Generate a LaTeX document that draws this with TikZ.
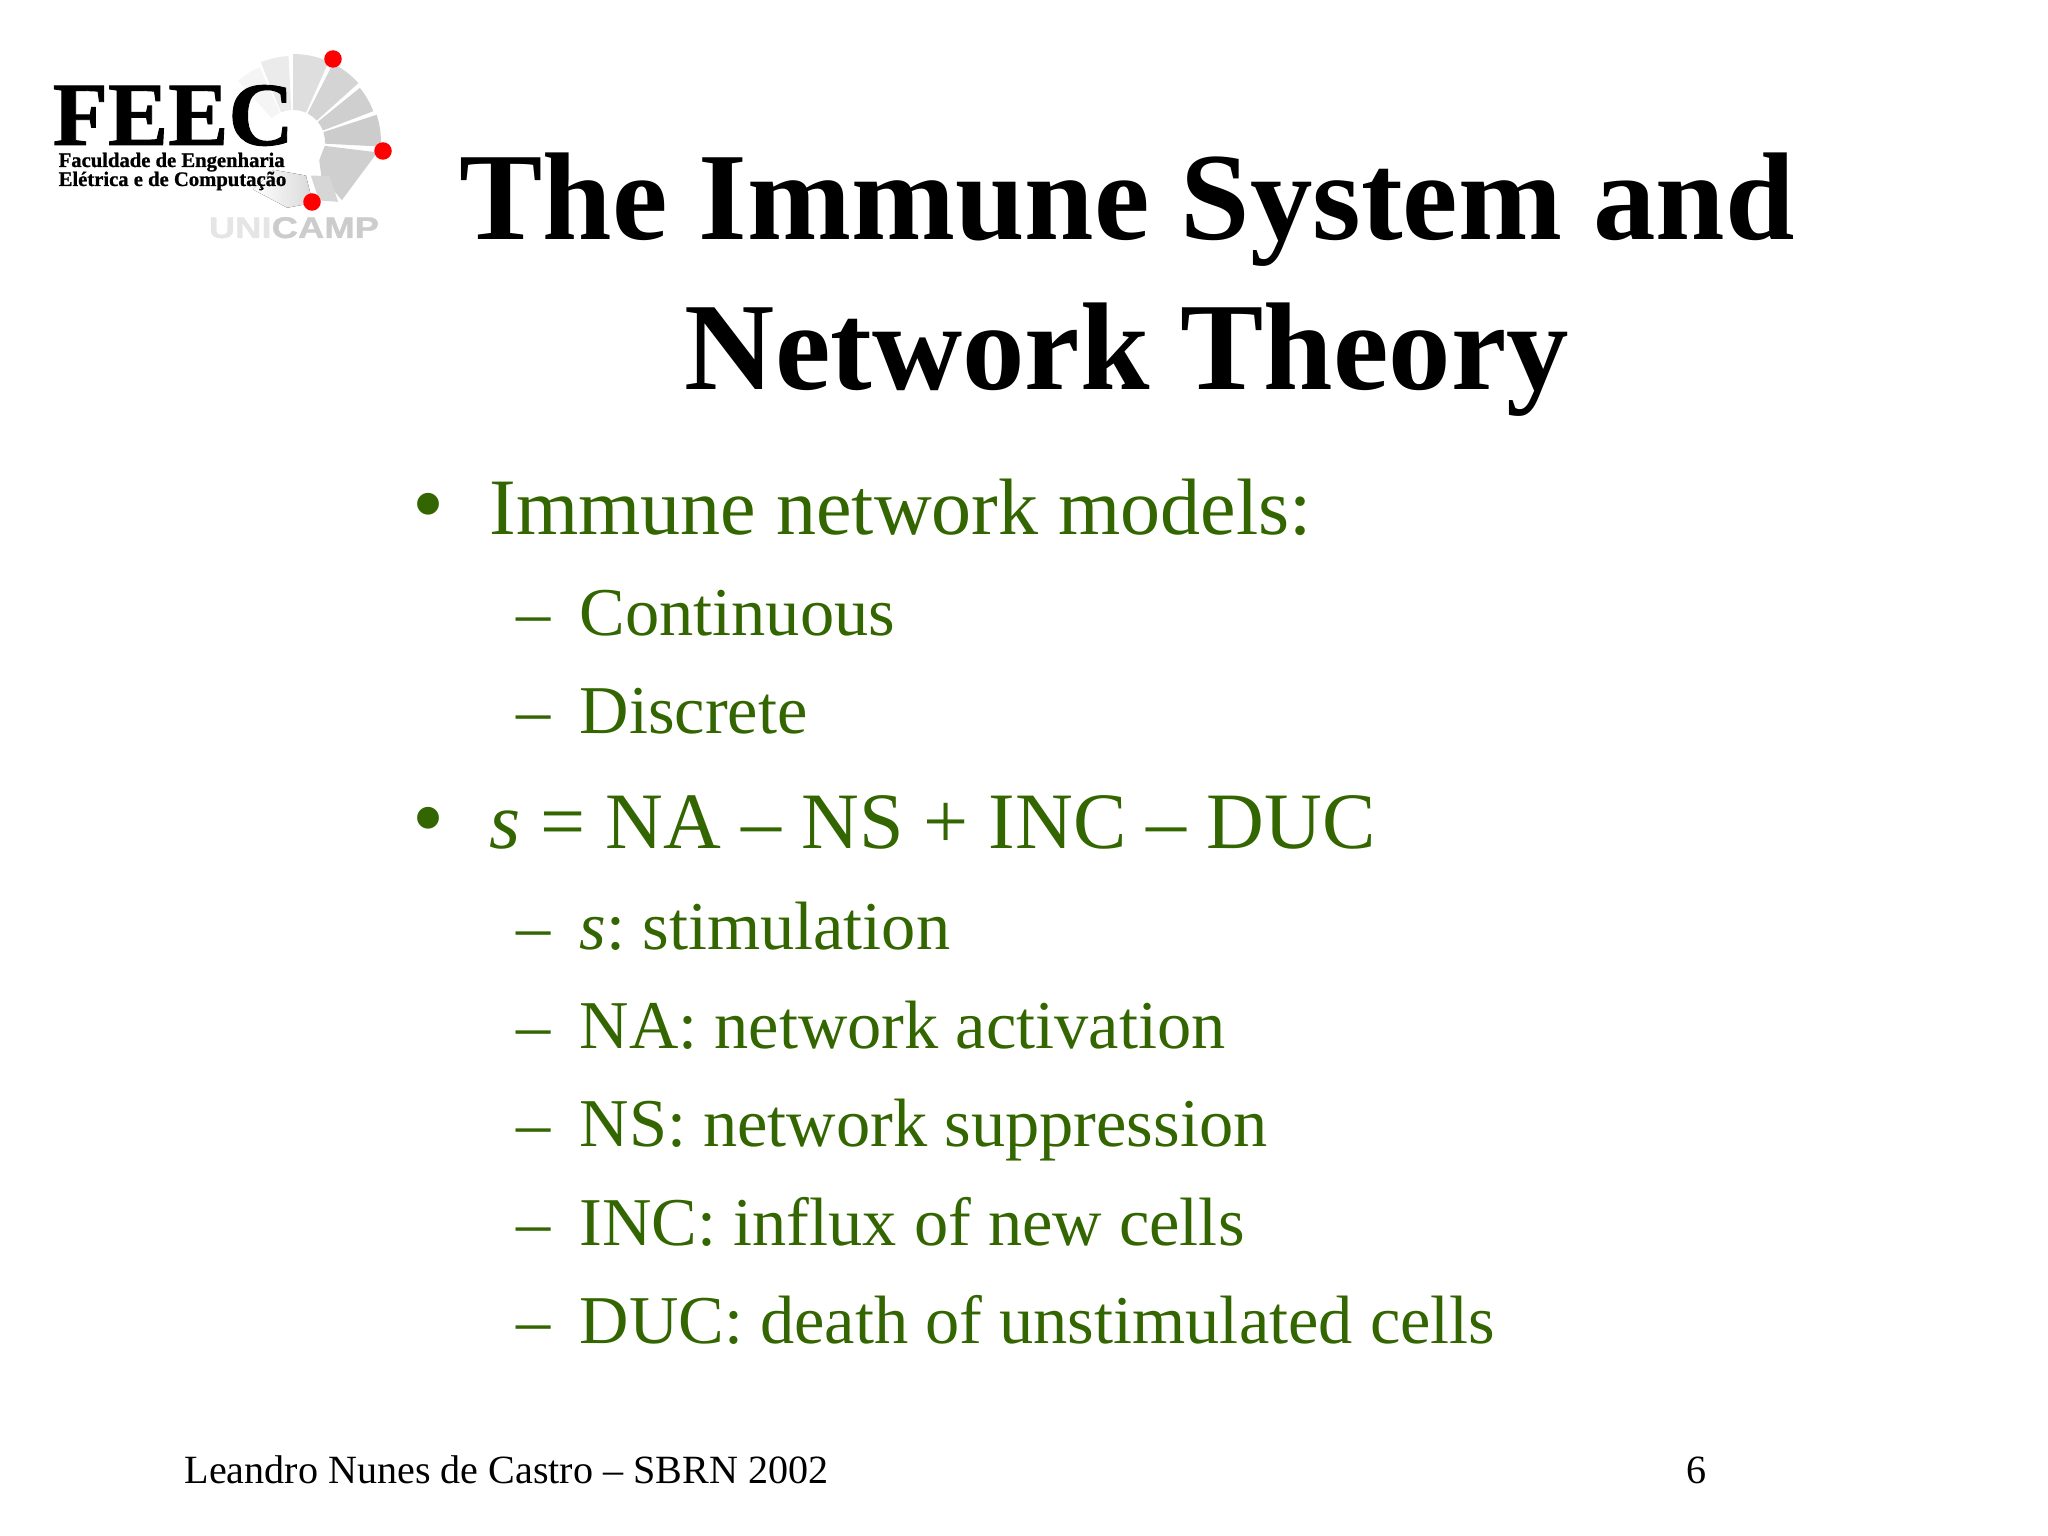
\documentclass[tikz,border=0pt]{standalone}
\usepackage{fontspec}
\setmainfont{Liberation Serif}
\newfontfamily\logoserif[FakeBold=1]{Liberation Serif Bold}
\newfontfamily\logosans[FakeBold=1]{Liberation Sans Bold}
\definecolor{slidegreen}{HTML}{336600}
\tikzset{
  titlelabel/.style={anchor=base,font=\fontsize{35.5}{36}\selectfont\bfseries},
  mainlabel/.style={anchor=base west,text=slidegreen,inner sep=0pt,font=\fontsize{22.75}{26}\selectfont},
  bulletlabel/.style={anchor=base west,text=slidegreen,inner sep=0pt,font=\fontsize{26}{26}\selectfont},
  sublabel/.style={anchor=base west,text=slidegreen,inner sep=0pt,font=\fontsize{19.45}{22}\selectfont},
  footlabel/.style={anchor=base west,inner sep=0pt,font=\fontsize{11.4}{13}\selectfont},
  reddot/.style={circle,fill=red,inner sep=0pt,minimum size=0.175cm},
}
\newcommand{\logosector}[5]{\fill[#5] (#1:#4) arc[start angle=#1,end angle=#2,radius=#4] -- (#2:#3) arc[start angle=#2,end angle=#1,radius=#3] -- cycle;}
\begin{document}
\begin{tikzpicture}[x=0.01cm,y=0.01cm]
\useasboundingbox (0,0) rectangle (2048,1536);

% logo
\begin{scope}[shift={(293,1394)}]
\logosector{114}{132}{32}{82}{black!4}
\logosector{93}{112}{32}{86}{black!8}
\logosector{66}{90}{32}{88}{black!13}
\logosector{42}{63}{32}{88}{black!17}
\logosector{21}{39}{32}{86}{black!19}
\logosector{-3}{18}{32}{88}{black!20}
\fill[black!19] (-7:32) -- (-7:85) -- (-50:76) -- (-50:44) -- (-35:32) -- cycle;
\fill[black!16] (-43:50) -- (-53:75) -- (-66:64) -- (-62:38) -- cycle;
\fill[left color=white,right color=black!15] (-69:36) -- (-72:64) -- (-95:66) -- (-130:62) -- (-125:34) -- cycle;
\end{scope}
\node[reddot] (dottop) at (333,1477) {};
\node[reddot] (dotright) at (383,1385) {};
\node[reddot] (dotbottom) at (312,1334) {};
\node[anchor=base west,inner sep=0pt,font=\logoserif\fontsize{25.7}{26}\selectfont] (feec) at (52,1391) {FEEC};
\node[anchor=base west,inner sep=0pt,font=\logoserif\fontsize{5.87}{6}\selectfont] (faculdade) at (58,1369) {Faculdade de Engenharia};
\node[anchor=base west,inner sep=0pt,font=\logoserif\fontsize{5.87}{6}\selectfont] (eletrica) at (58,1350) {Elétrica e de Computação};
\node[anchor=base west,inner sep=0pt,xscale=1.22,font=\logosans\fontsize{8.5}{9}\selectfont] (unicamp) at (208,1298) {\textcolor{black!10}{UNI}\textcolor{black!20}{CAMP}};

% title
\node[titlelabel] (titleone) at (1127,1296) {The Immune System and};
\node[titlelabel] (titletwo) at (1127,1146) {Network Theory};

% bullets
\node[bulletlabel] (bulletone) at (412,1001) {•};
\node[mainlabel] (models) at (489,1001) {Immune network models:};
\node[sublabel] (dashone) at (516,900) {–};
\node[sublabel] (continuous) at (579,900) {Continuous};
\node[sublabel] (dashtwo) at (516,802) {–};
\node[sublabel] (discrete) at (579,802) {Discrete};
\node[bulletlabel] (bullettwo) at (412,687) {•};
\node[mainlabel] (formula) at (489,687) {\textit{s} = NA – NS + INC – DUC};
\node[sublabel] (dashthree) at (516,586) {–};
\node[sublabel] (stimulation) at (579,586) {\textit{s}:\kern-1.6pt{} stimulation};
\node[sublabel] (dashfour) at (516,487) {–};
\node[sublabel] (activation) at (579,487) {NA: network activation};
\node[sublabel] (dashfive) at (516,389) {–};
\node[sublabel] (suppression) at (579,389) {NS: network suppression};
\node[sublabel] (dashsix) at (516,290) {–};
\node[sublabel] (influx) at (579,290) {INC: influx of new cells};
\node[sublabel] (dashseven) at (516,192) {–};
\node[sublabel] (death) at (579,192) {DUC: death of unstimulated cells};

% footer
\node[footlabel] (author) at (184,52) {Leandro Nunes de Castro – SBRN 2002};
\node[footlabel] (pagenum) at (1686,52) {6};
\end{tikzpicture}
\end{document}
